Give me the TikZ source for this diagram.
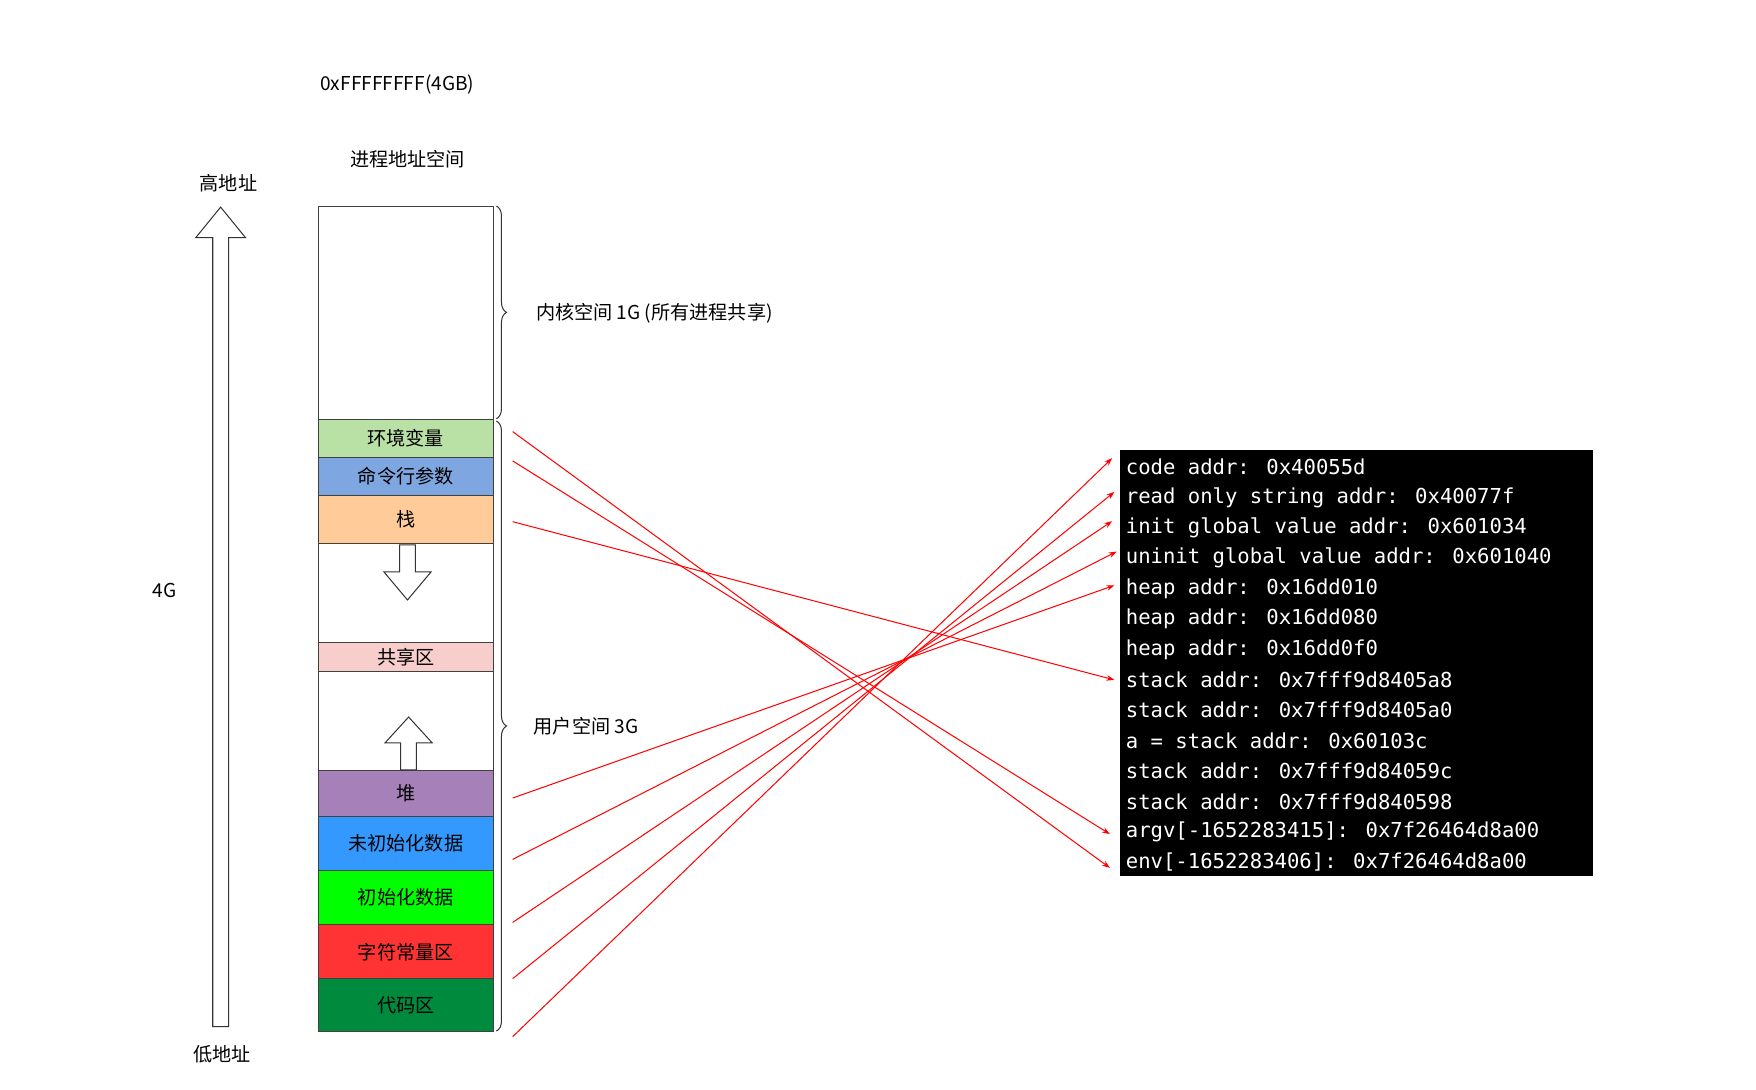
\documentclass[tikz,border=0pt]{standalone}
\usepackage{fontspec}
\setmainfont{Noto Sans CJK SC}
\newfontfamily\monof{DejaVu Sans Mono}
\usetikzlibrary{arrows.meta,decorations.pathreplacing}
\definecolor{cEnv}{HTML}{B9E0A5}
\definecolor{cArg}{HTML}{7EA6E0}
\definecolor{cStk}{HTML}{FFCC99}
\definecolor{cShr}{HTML}{F8CECC}
\definecolor{cHeap}{HTML}{A680B8}
\definecolor{cBss}{HTML}{3399FF}
\definecolor{cData}{HTML}{00FF00}
\definecolor{cRo}{HTML}{FF3333}
\definecolor{cCode}{HTML}{008A3E}
\begin{document}
\begin{tikzpicture}[x=1pt,y=-1pt,
  seg/.style={draw=black!75,line width=0.9pt,minimum width=155pt,inner sep=0pt,font=\fontsize{17}{17}\selectfont,anchor=north},
  lab/.style={font=\fontsize{17}{17}\selectfont,inner sep=0pt},
  mono/.style={font=\monof\fontsize{18.3}{18.3}\selectfont,text=white,anchor=west,inner sep=0pt},
  link/.style={draw=red,line width=0.9pt,-{Stealth[length=7pt,width=5pt]}},
  brace/.style={draw=black!80,line width=0.9pt,decorate,decoration={brace,amplitude=9pt}},
  hollow/.style={draw=black!80,line width=0.9pt,fill=white}]
\useasboundingbox (0,0) rectangle (1560,968);
% column
\node[seg,minimum height=189pt] (kern) at (360.5,183) {};
\node[seg,minimum height=34pt,fill=cEnv] (env) at (360.5,372) {环境变量};
\node[seg,minimum height=34pt,fill=cArg] (arg) at (360.5,406) {命令行参数};
\node[seg,minimum height=42pt,fill=cStk] (stk) at (360.5,440) {栈};
\node[seg,minimum height=88pt] (gap1) at (360.5,482) {};
\node[seg,minimum height=26pt,fill=cShr] (shr) at (360.5,570) {共享区};
\node[seg,minimum height=88pt] (gap2) at (360.5,596) {};
\node[seg,minimum height=41pt,fill=cHeap] (heap) at (360.5,684) {堆};
\node[seg,minimum height=48pt,fill=cBss] (bss) at (360.5,725) {未初始化数据};
\node[seg,minimum height=48pt,fill=cData] (data) at (360.5,773) {初始化数据};
\node[seg,minimum height=48pt,fill=cRo] (ro) at (360.5,821) {字符常量区};
\node[seg,minimum height=47pt,fill=cCode] (code) at (360.5,869) {代码区};
% arrows inside
\draw[hollow] (355,484) -- (369,484) -- (369,508) -- (383,508) -- (362,533) -- (341,508) -- (355,508) -- cycle;
\draw[hollow] (356,684) -- (370,684) -- (370,660) -- (384,660) -- (363,637) -- (342,660) -- (356,660) -- cycle;
% left arrow
\draw[hollow] (189,912) -- (203,912) -- (203,211) -- (218,211) -- (196,184) -- (174,211) -- (189,211) -- cycle;
\node[lab] (hi) at (203,163) {高地址};
\node[lab] (lo) at (197,937) {低地址};
\node[lab] (fg) at (146,525) {4G};
\node[lab] (top) at (353,75) {0xFFFFFFFF(4GB)};
\node[lab] (title) at (362,141) {进程地址空间};
% braces
\draw[brace] (441,183) -- (441,372);
\draw[brace] (441,374) -- (441,916);
\node[lab,anchor=west] (kl) at (476,278) {内核空间 1G (所有进程共享)};
\node[lab,anchor=west] (ul) at (474,645) {用户空间 3G};
% terminal box
\fill[black] (995,400) rectangle (1415,778);
\foreach \t [count=\i] in {code addr: 0x40055d,read only string addr: 0x40077f,init global value addr: 0x601034,uninit global value addr: 0x601040,heap addr: 0x16dd010,heap addr: 0x16dd080,heap addr: 0x16dd0f0,stack addr: 0x7fff9d8405a8,stack addr: 0x7fff9d8405a0,a = stack addr: 0x60103c,stack addr: 0x7fff9d84059c,stack addr: 0x7fff9d840598,argv[-1652283415]: 0x7f26464d8a00,env[-1652283406]: 0x7f26464d8a00}
  \node[mono] (t\i) at (1000,{415+27*(\i-1)}) {\t};
% links
\draw[link] ([xshift=17pt,yshift=6pt]env.east) -- ([xshift=-14pt,yshift=-5pt]t14.west);
\draw[link] ([xshift=17pt,yshift=14pt]arg.east) -- ([xshift=-14pt,yshift=-2pt]t13.west);
\draw[link] ([xshift=17pt,yshift=-2pt]stk.east) -- ([xshift=-10pt]t8.west);
\draw[link] ([xshift=17pt,yshift=-4pt]heap.east) -- ([xshift=-10pt,yshift=3pt]t5.west);
\draw[link] ([xshift=17pt,yshift=-14pt]bss.east) -- ([xshift=-8pt,yshift=6pt]t4.west);
\draw[link] ([xshift=17pt,yshift=-22pt]data.east) -- ([xshift=-12pt,yshift=6pt]t3.west);
\draw[link] ([xshift=17pt,yshift=-24pt]ro.east) -- ([xshift=-10pt,yshift=5pt]t2.west);
\draw[link] ([xshift=17pt,yshift=-28pt]code.east) -- ([xshift=-12pt,yshift=8pt]t1.west);
\end{tikzpicture}
\end{document}
